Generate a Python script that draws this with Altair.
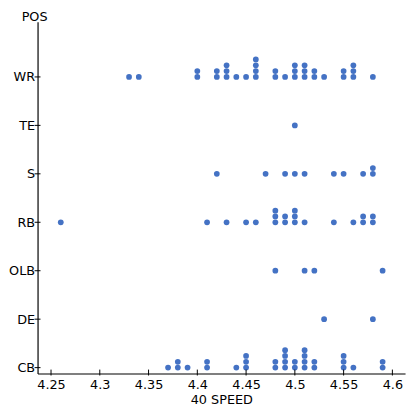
import altair as alt
import pandas as pd

positions = ["CB", "DE", "OLB", "RB", "S", "TE", "WR"]

cb_speeds = [4.37, 4.38, 4.38, 4.39, 4.41, 4.41, 4.44, 4.45, 4.45, 4.45,
             4.48, 4.48, 4.49, 4.49, 4.49, 4.49, 4.50, 4.50, 4.51, 4.51,
             4.51, 4.51, 4.52, 4.52, 4.55, 4.55, 4.55, 4.56, 4.59, 4.59]
de_speeds = [4.53, 4.58]
olb_speeds = [4.48, 4.51, 4.52, 4.59]
rb_speeds = [4.26, 4.41, 4.43, 4.45, 4.46, 4.48, 4.48, 4.48, 4.49, 4.49,
             4.50, 4.50, 4.50, 4.51, 4.54, 4.56, 4.57, 4.57, 4.58, 4.58]
s_speeds = [4.42, 4.47, 4.49, 4.50, 4.51, 4.54, 4.55, 4.57, 4.58, 4.58]
te_speeds = [4.50]
wr_speeds = [4.33, 4.34, 4.40, 4.40, 4.42, 4.42, 4.43, 4.43, 4.43, 4.44,
             4.45, 4.46, 4.46, 4.46, 4.46, 4.48, 4.48, 4.49, 4.50, 4.50,
             4.50, 4.51, 4.51, 4.51, 4.52, 4.52, 4.53, 4.55, 4.55, 4.56,
             4.56, 4.56, 4.58]

x_ticks = [4.25, 4.3, 4.35, 4.4, 4.45, 4.5, 4.55, 4.6]

series = [cb_speeds, de_speeds, olb_speeds, rb_speeds, s_speeds, te_speeds, wr_speeds]
rows = []
for i, (pos, vals) in enumerate(zip(positions, series)):
    for v in vals:
        rows.append({"POS": pos, "pidx": i, "SPEED": round(v, 2)})
df = pd.DataFrame(rows)
df["stack"] = df.groupby(["POS", "SPEED"]).cumcount()
df["yv"] = df["pidx"] + df["stack"] * 0.12

W, H = 373, 357
xdom = [4.2362, 4.6130]
ydom = [-0.1220, 7.138]
xs = alt.Scale(domain=xdom, nice=False, zero=False)
ys = alt.Scale(domain=ydom, nice=False, zero=False)

font = "DejaVu Sans"
label_expr = "['CB','DE','OLB','RB','S','TE','WR'][datum.value]"

points = alt.Chart(df).mark_circle(size=34, opacity=1, color="#4472c4").encode(
    x=alt.X("SPEED:Q", scale=xs,
            axis=alt.Axis(title="40 SPEED", values=x_ticks, format="~g",
                          ticks=False, grid=False, labelPadding=5,
                          titlePadding=2, labelFlush=False,
                          labelOverlap=False)),
    y=alt.Y("yv:Q", scale=ys,
            axis=alt.Axis(title="POS", values=list(range(len(positions))),
                          labelExpr=label_expr, ticks=False, grid=False,
                          labelPadding=3, titleAngle=0, titleX=-3.5, titleY=-1.5,
                          titleAlign="center", titleBaseline="alphabetic")),
)

xt = pd.DataFrame({"t": x_ticks})
xtick_layer = alt.Chart(xt).mark_rule(color="black", strokeWidth=1).encode(
    x=alt.X("t:Q", scale=xs),
    y=alt.value(H - 4), y2=alt.value(H + 2),
)
yt = pd.DataFrame({"t": list(range(len(positions)))})
ytick_layer = alt.Chart(yt).mark_rule(color="black", strokeWidth=1).encode(
    y=alt.Y("t:Q", scale=ys),
    x=alt.value(-3), x2=alt.value(3),
)

chart = alt.layer(points, xtick_layer, ytick_layer).properties(
    width=W, height=H,
    background="white",
    autosize=alt.AutoSizeParams(type="none"),
    padding={"left": 30, "top": 11, "right": 4, "bottom": 33},
).configure_view(stroke=None).configure_axis(
    labelFont=font, titleFont=font, labelFontSize=13, titleFontSize=13,
    labelColor="black", titleColor="black", titleFontWeight="normal",
    domainColor="black", domainWidth=1.2,
)

chart.save("out.html", embed_options={"renderer": "svg", "actions": False})
